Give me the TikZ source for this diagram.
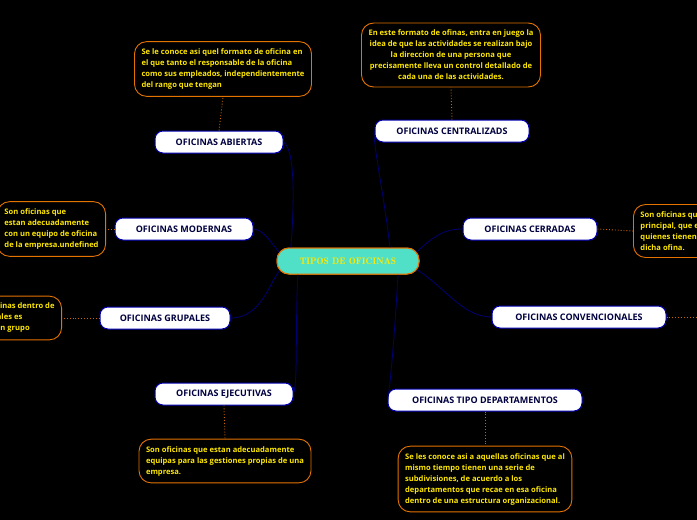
\documentclass[tikz,border=0pt]{standalone}
\usepackage{fontspec}
\setmainfont{Open Sans}
\definecolor{turq}{HTML}{50E0C8}
\begin{document}
\begin{tikzpicture}[x=1pt,y=-1pt,
 topic/.style={draw=blue!70!black,fill=white,rounded corners=8pt,line width=1pt,minimum height=22pt,text=blue!25!black,font=\fontsize{9}{10}\selectfont\bfseries,inner xsep=6pt},
 note/.style={draw=orange!90!black,fill=black,rounded corners=12pt,line width=0.9pt,text=yellow!90!orange,font=\fontsize{7.6}{11}\selectfont\bfseries,align=left,inner sep=7pt},
 conn/.style={draw=blue!45!black,line width=0.8pt},
 dot/.style={draw=orange!80!black,dotted,line width=0.9pt},
 center/.style={draw=orange!90!black,fill=turq,rounded corners=12pt,line width=1pt,minimum width=142pt,minimum height=26pt,text=yellow!90!orange,font=\fontfamily{lmr}\fontsize{9.5}{10}\selectfont\bfseries}]
\clip (0,0) rectangle (697,520);
\fill[black] (0,0) rectangle (697,520);
\node[center] (c) at (348,261) {TIPOS DE OFICINAS};
\node[topic,minimum width=128pt] (ab) at (219,142) {OFICINAS ABIERTAS};
\node[topic,minimum width=138pt] (mo) at (184,229) {OFICINAS MODERNAS};
\node[topic,minimum width=130pt] (gr) at (165,318) {OFICINAS GRUPALES};
\node[topic,minimum width=138pt] (ej) at (224,394) {OFICINAS EJECUTIVAS};
\node[topic,minimum width=154pt] (ce) at (452,131) {OFICINAS CENTRALIZADS};
\node[topic,minimum width=134pt] (cr) at (530,229) {OFICINAS CERRADAS};
\node[topic,minimum width=174pt] (cv) at (579,317) {OFICINAS CONVENCIONALES};
\node[topic,minimum width=194pt] (td) at (485,400) {OFICINAS TIPO DEPARTAMENTOS};
\draw[conn] (290,258) .. controls (295,200) and (295,150) .. (ab.east);
\draw[conn] (285,258) .. controls (275,250) and (265,229) .. (mo.east);
\draw[conn] (285,265) .. controls (270,275) and (265,318) .. (gr.east);
\draw[conn] (298,272) .. controls (295,330) and (298,380) .. (ej.east);
\draw[conn] (390,248) .. controls (385,200) and (372,140) .. (ce.west);
\draw[conn] (410,258) .. controls (430,240) and (440,229) .. (cr.west);
\draw[conn] (410,266) .. controls (440,280) and (460,317) .. (cv.west);
\draw[conn] (398,274) .. controls (395,330) and (390,390) .. (td.west);
\node[center] at (c) {TIPOS DE OFICINAS};
\node[note] (n1) at (223,69) {Se le conoce asi quel formato de oficina en\\el que tanto el responsable de la oficina\\como sus empleados, independientemente\\del rango que tengan};
\node[note,align=center] (n2) at (451,55) {En este formato de ofinas, entra en juego la\\idea de que las actividades se realizan bajo\\la direccion de una persona que\\precisamente lleva un control detallado de\\cada una de las actividades.};
\node[note,anchor=east] (n3) at (106,229) {Son oficinas que\\estan adecuadamente\\con un equipo de oficina\\de la empresa.undefined};
\node[note,anchor=east] (n4) at (62,318) {Son las oficinas dentro de\\las principales es\\el trabajo en grupo};
\node[note,anchor=west] (n5) at (633,231) {Son oficinas que tienen un\\principal, que es ocupado\\quienes tienen el control de\\dicha ofina.};
\node[note,anchor=west] (n6) at (698,317) {x};
\node[note] (n7) at (225,461) {Son oficinas que estan adecuadamente\\equipas para las gestiones propias de una\\empresa.};
\node[note] (n8) at (485,479) {Se les conoce asi a aquellas oficinas que al\\mismo tiempo tienen una serie de\\subdivisiones, de acuerdo a los\\departamentos que recae en esa oficina\\dentro de una estructura organizacional.};
\draw[dot] (ab.north) -- (n1.south);
\draw[dot] (ce.north) -- (n2.south);
\draw[dot] (mo.west) -- (n3.east);
\draw[dot] (gr.west) -- (n4.east);
\draw[dot] (cr.east) -- (n5.west);
\draw[dot] (cv.east) -- (n6.west);
\draw[dot] (ej.south) -- (n7.north);
\draw[dot] (td.south) -- (n8.north);
\end{tikzpicture}
\end{document}
